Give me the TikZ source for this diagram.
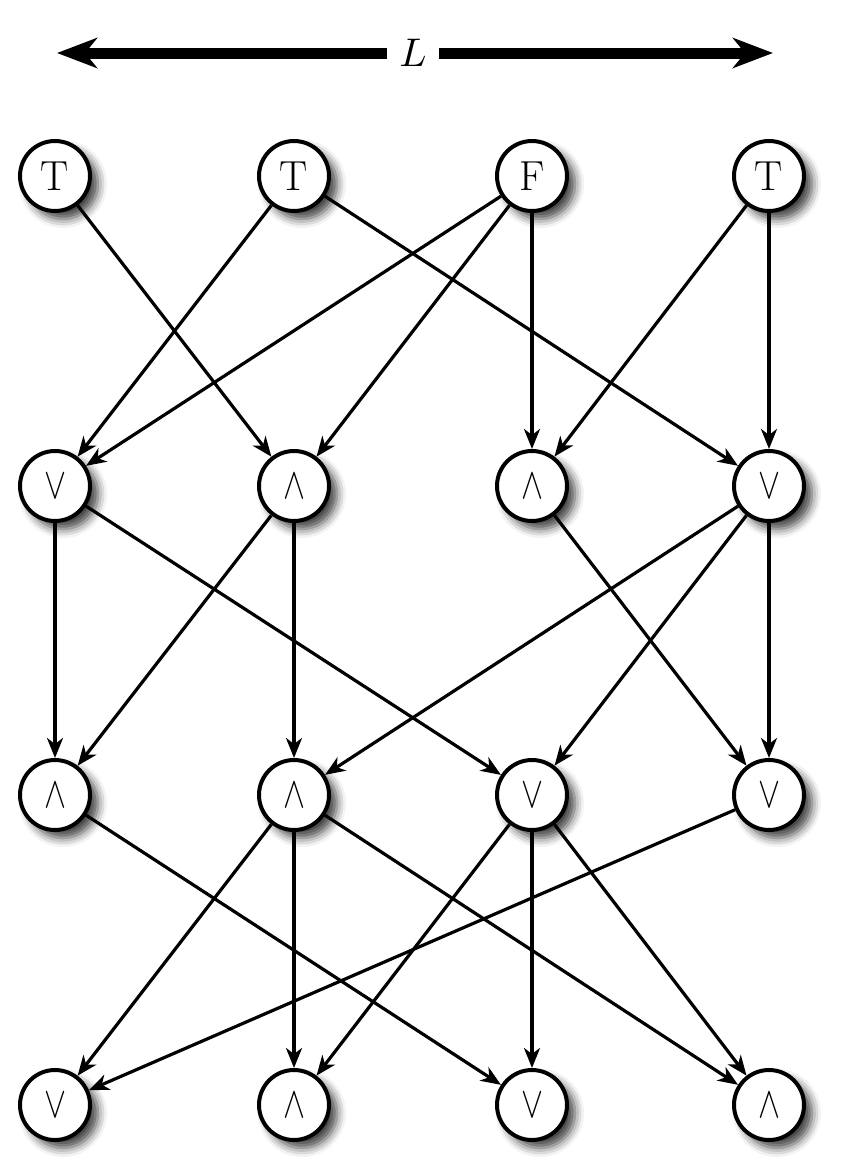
\documentclass[tikz,border=0pt]{standalone}
\usepackage{graphicx}
\usetikzlibrary{arrows.meta,shadows.blur}
\newcommand{\bigmath}[1]{\scalebox{4}{\normalsize$#1$}}
\newcommand{\gatesym}[1]{\scalebox{3.3}[4.4]{\normalsize$#1$}}
\tikzset{
  gate/.style={circle, draw, line width=4pt, fill=white, minimum size=70pt, inner sep=0pt,
    font=\fontsize{42}{42}\selectfont,
    blur shadow={shadow xshift=8pt, shadow yshift=-8pt, shadow blur radius=9pt, shadow opacity=75}},
  wire/.style={line width=3.2pt, -{Stealth[length=20pt,width=16pt,inset=6pt]}},
  bigarrow/.style={line width=11pt, -{Stealth[length=40pt,width=30pt,inset=12pt]}}
}
\begin{document}
\begin{tikzpicture}[x=1pt,y=-1pt]
\useasboundingbox (0,0) rectangle (843,1176);
% top measure
\node[inner xsep=12pt, inner ysep=0pt] (L) at (413,53) {\bigmath{L}};
\coordinate (lt) at (57,53);
\coordinate (rt) at (773,53);
\draw[bigarrow] (L) -- (lt);
\draw[bigarrow] (L) -- (rt);
% nodes
\def\cA{55}\def\cB{294}\def\cC{532}\def\cD{769}
\node[gate] (a0) at (\cA,176) {T};
\node[gate] (a1) at (\cB,176) {T};
\node[gate] (a2) at (\cC,176) {F};
\node[gate] (a3) at (\cD,176) {T};
\node[gate] (b0) at (\cA,486) {\gatesym{\vee}};
\node[gate] (b1) at (\cB,486) {\gatesym{\wedge}};
\node[gate] (b2) at (\cC,486) {\gatesym{\wedge}};
\node[gate] (b3) at (\cD,486) {\gatesym{\vee}};
\node[gate] (c0) at (\cA,795) {\gatesym{\wedge}};
\node[gate] (c1) at (\cB,795) {\gatesym{\wedge}};
\node[gate] (c2) at (\cC,795) {\gatesym{\vee}};
\node[gate] (c3) at (\cD,795) {\gatesym{\vee}};
\node[gate] (d0) at (\cA,1105) {\gatesym{\vee}};
\node[gate] (d1) at (\cB,1105) {\gatesym{\wedge}};
\node[gate] (d2) at (\cC,1105) {\gatesym{\vee}};
\node[gate] (d3) at (\cD,1105) {\gatesym{\wedge}};
% edges row 0 -> 1
\draw[wire] (a0) -- (b1);
\draw[wire] (a1) -- (b0);
\draw[wire] (a1) -- (b3);
\draw[wire] (a2) -- (b0);
\draw[wire] (a2) -- (b1);
\draw[wire] (a2) -- (b2);
\draw[wire] (a3) -- (b2);
\draw[wire] (a3) -- (b3);
% row 1 -> 2
\draw[wire] (b0) -- (c0);
\draw[wire] (b0) -- (c2);
\draw[wire] (b1) -- (c0);
\draw[wire] (b1) -- (c1);
\draw[wire] (b2) -- (c3);
\draw[wire] (b3) -- (c1);
\draw[wire] (b3) -- (c2);
\draw[wire] (b3) -- (c3);
% row 2 -> 3
\draw[wire] (c0) -- (d2);
\draw[wire] (c1) -- (d0);
\draw[wire] (c1) -- (d1);
\draw[wire] (c1) -- (d3);
\draw[wire] (c2) -- (d1);
\draw[wire] (c2) -- (d2);
\draw[wire] (c2) -- (d3);
\draw[wire] (c3) -- (d0);
\end{tikzpicture}
\end{document}
